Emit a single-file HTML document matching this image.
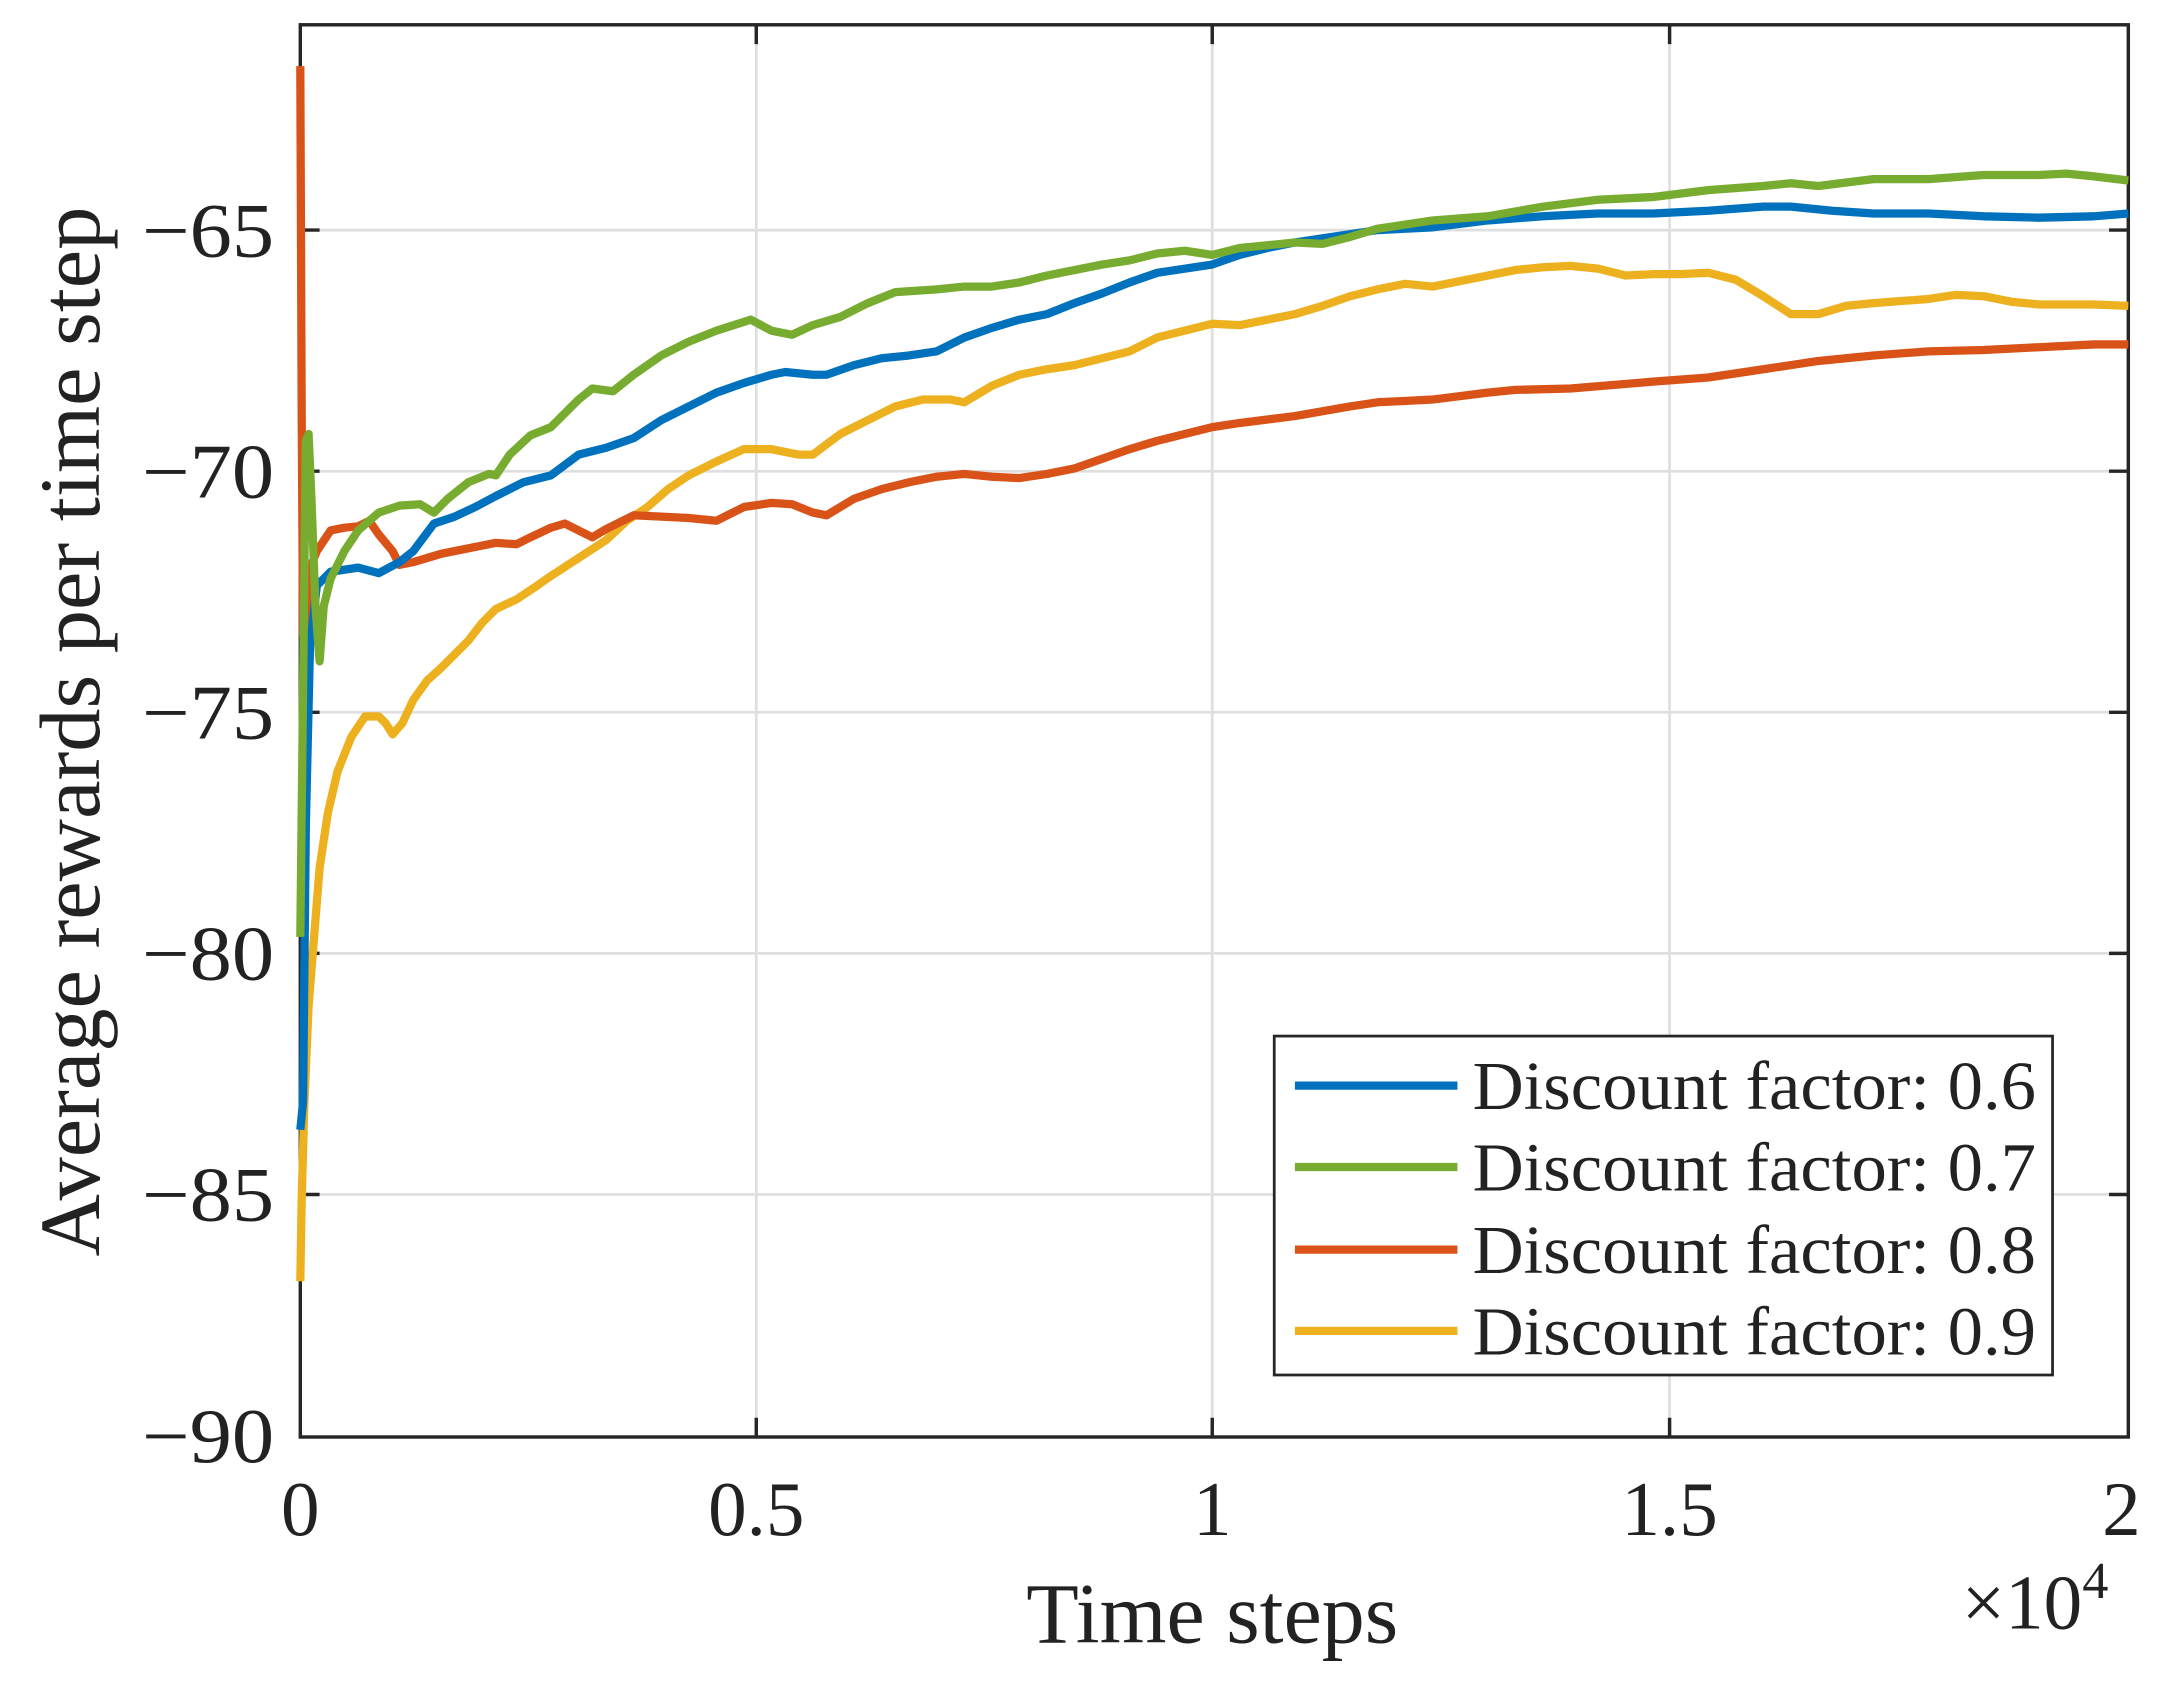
<!DOCTYPE html>
<html><head><meta charset="utf-8"><style>html,body{margin:0;padding:0;background:#fff}svg{display:block}</style></head>
<body>
<svg width="2160" height="1685" viewBox="0 0 1568 1223" preserveAspectRatio="none" xmlns="http://www.w3.org/2000/svg" font-family="'Liberation Serif', serif" fill="#222">
<rect width="1568" height="1223" fill="#fff"/>
<g stroke="#dfdfdf" stroke-width="2">
<line x1="549" y1="18" x2="549" y2="1043"/><line x1="880" y1="18" x2="880" y2="1043"/><line x1="1212" y1="18" x2="1212" y2="1043"/>
<line x1="218" y1="167" x2="1545" y2="167"/><line x1="218" y1="342" x2="1545" y2="342"/><line x1="218" y1="517" x2="1545" y2="517"/><line x1="218" y1="692" x2="1545" y2="692"/><line x1="218" y1="867" x2="1545" y2="867"/>
</g>
<g stroke="#262626" stroke-width="2.5">
<rect x="218" y="18" width="1327" height="1025" fill="none"/>
<path d="M218 167h14M218 342h14M218 517h14M218 692h14M218 867h14M1545 167h-14M1545 342h-14M1545 517h-14M1545 692h-14M1545 867h-14M549 1043v-14M880 1043v-14M1212 1043v-14M549 18v14M880 18v14M1212 18v14"/>
</g>
<g font-size="56">
<text x="103" y="186" textLength="96" lengthAdjust="spacingAndGlyphs">−65</text>
<text x="103" y="361" textLength="96" lengthAdjust="spacingAndGlyphs">−70</text>
<text x="103" y="536" textLength="96" lengthAdjust="spacingAndGlyphs">−75</text>
<text x="103" y="711" textLength="96" lengthAdjust="spacingAndGlyphs">−80</text>
<text x="103" y="886" textLength="96" lengthAdjust="spacingAndGlyphs">−85</text>
<text x="103" y="1061" textLength="96" lengthAdjust="spacingAndGlyphs">−90</text>
</g>
<g font-size="56" text-anchor="middle">
<text x="218" y="1114">0</text><text x="549" y="1114">0.5</text><text x="880" y="1114">1</text><text x="1212" y="1114">1.5</text><text x="1540" y="1114">2</text>
</g>
<text x="745" y="1192" font-size="62" textLength="270" lengthAdjust="spacingAndGlyphs">Time steps</text>
<text x="1424" y="1182" font-size="56">×10<tspan font-size="38" dy="-22">4</tspan></text>
<text transform="translate(72,531) rotate(-90)" font-size="62" text-anchor="middle" textLength="762" lengthAdjust="spacingAndGlyphs">Average rewards per time step</text>
<g fill="none" stroke-width="6" stroke-linejoin="round">
<polyline stroke="#EDB120" points="218,930 219,870 221,800 224,730 228,680 232,630 238,590 245,560 255,535 265,520 275,520 280,525 285,533 292,525 300,508 310,494 320,485 330,475 340,465 350,452 360,442 375,435 390,425 400,418 420,405 440,392 455,378 470,368 485,355 500,345 520,335 540,326 560,326 580,330 590,330 610,315 630,305 650,295 670,290 690,290 700,292 720,280 740,272 760,268 780,265 800,260 820,255 840,245 860,240 880,235 900,236 920,232 940,228 960,222 980,215 1000,210 1020,206 1040,208 1060,204 1080,200 1100,196 1120,194 1140,193 1160,195 1180,200 1200,199 1220,199 1240,198 1260,203 1280,215 1300,228 1320,228 1340,222 1360,220 1400,217 1420,214 1440,215 1460,219 1480,221 1520,221 1545,222"/>
<polyline stroke="#D95319" points="218,48 219,300 220,460 221,470 223,440 226,410 230,400 240,385 250,383 260,382 268,378 275,388 285,400 290,410 300,408 320,402 340,398 360,394 375,395 385,390 400,383 410,380 420,385 430,390 440,384 460,374 480,375 500,376 520,378 540,368 560,365 575,366 590,372 600,374 620,362 640,355 660,350 680,346 700,344 720,346 740,347 760,344 780,340 800,333 820,326 840,320 860,315 880,310 900,307 940,302 980,295 1000,292 1040,290 1080,285 1100,283 1140,282 1200,277 1240,274 1280,268 1320,262 1360,258 1400,255 1440,254 1480,252 1520,250 1545,250"/>
<polyline stroke="#0072BD" points="218,820 220,800 222,600 225,470 230,425 240,415 260,412 275,416 290,408 300,400 315,380 330,375 345,368 360,360 380,350 400,345 420,330 440,325 460,318 480,305 500,295 520,285 540,278 560,272 570,270 590,272 600,272 620,265 640,260 660,258 680,255 700,245 720,238 740,232 760,228 780,220 800,213 820,205 840,198 860,195 880,192 900,185 920,180 940,176 960,173 980,170 1000,167 1040,165 1080,160 1120,157 1160,155 1200,155 1240,153 1280,150 1300,150 1330,153 1360,155 1400,155 1440,157 1480,158 1520,157 1545,155"/>
<polyline stroke="#77AC30" points="218,680 220,500 222,320 224,315 226,360 229,440 232,480 235,440 240,420 250,400 260,385 275,372 290,367 305,366 315,372 325,362 340,350 355,344 360,345 370,330 385,316 400,310 410,300 420,290 430,282 445,284 460,272 480,258 500,248 520,240 545,232 560,240 575,243 590,236 610,230 630,220 650,212 680,210 700,208 720,208 740,205 760,200 780,196 800,192 820,189 840,184 860,182 880,185 900,180 940,176 960,177 980,172 1000,166 1040,160 1080,157 1120,150 1160,145 1200,143 1240,138 1280,135 1300,133 1320,135 1360,130 1400,130 1440,127 1480,127 1500,126 1520,128 1545,131"/>
</g>
<rect x="925" y="752" width="565" height="246" fill="#fff" stroke="#262626" stroke-width="2"/>
<g stroke-width="6">
<line x1="940" y1="788" x2="1058" y2="788" stroke="#0072BD"/>
<line x1="940" y1="847" x2="1058" y2="847" stroke="#77AC30"/>
<line x1="940" y1="907" x2="1058" y2="907" stroke="#D95319"/>
<line x1="940" y1="966" x2="1058" y2="966" stroke="#EDB120"/>
</g>
<g font-size="50">
<text x="1069" y="805" textLength="409" lengthAdjust="spacingAndGlyphs">Discount factor: 0.6</text>
<text x="1069" y="864" textLength="409" lengthAdjust="spacingAndGlyphs">Discount factor: 0.7</text>
<text x="1069" y="924" textLength="409" lengthAdjust="spacingAndGlyphs">Discount factor: 0.8</text>
<text x="1069" y="983" textLength="409" lengthAdjust="spacingAndGlyphs">Discount factor: 0.9</text>
</g>
</svg>
</body></html>
